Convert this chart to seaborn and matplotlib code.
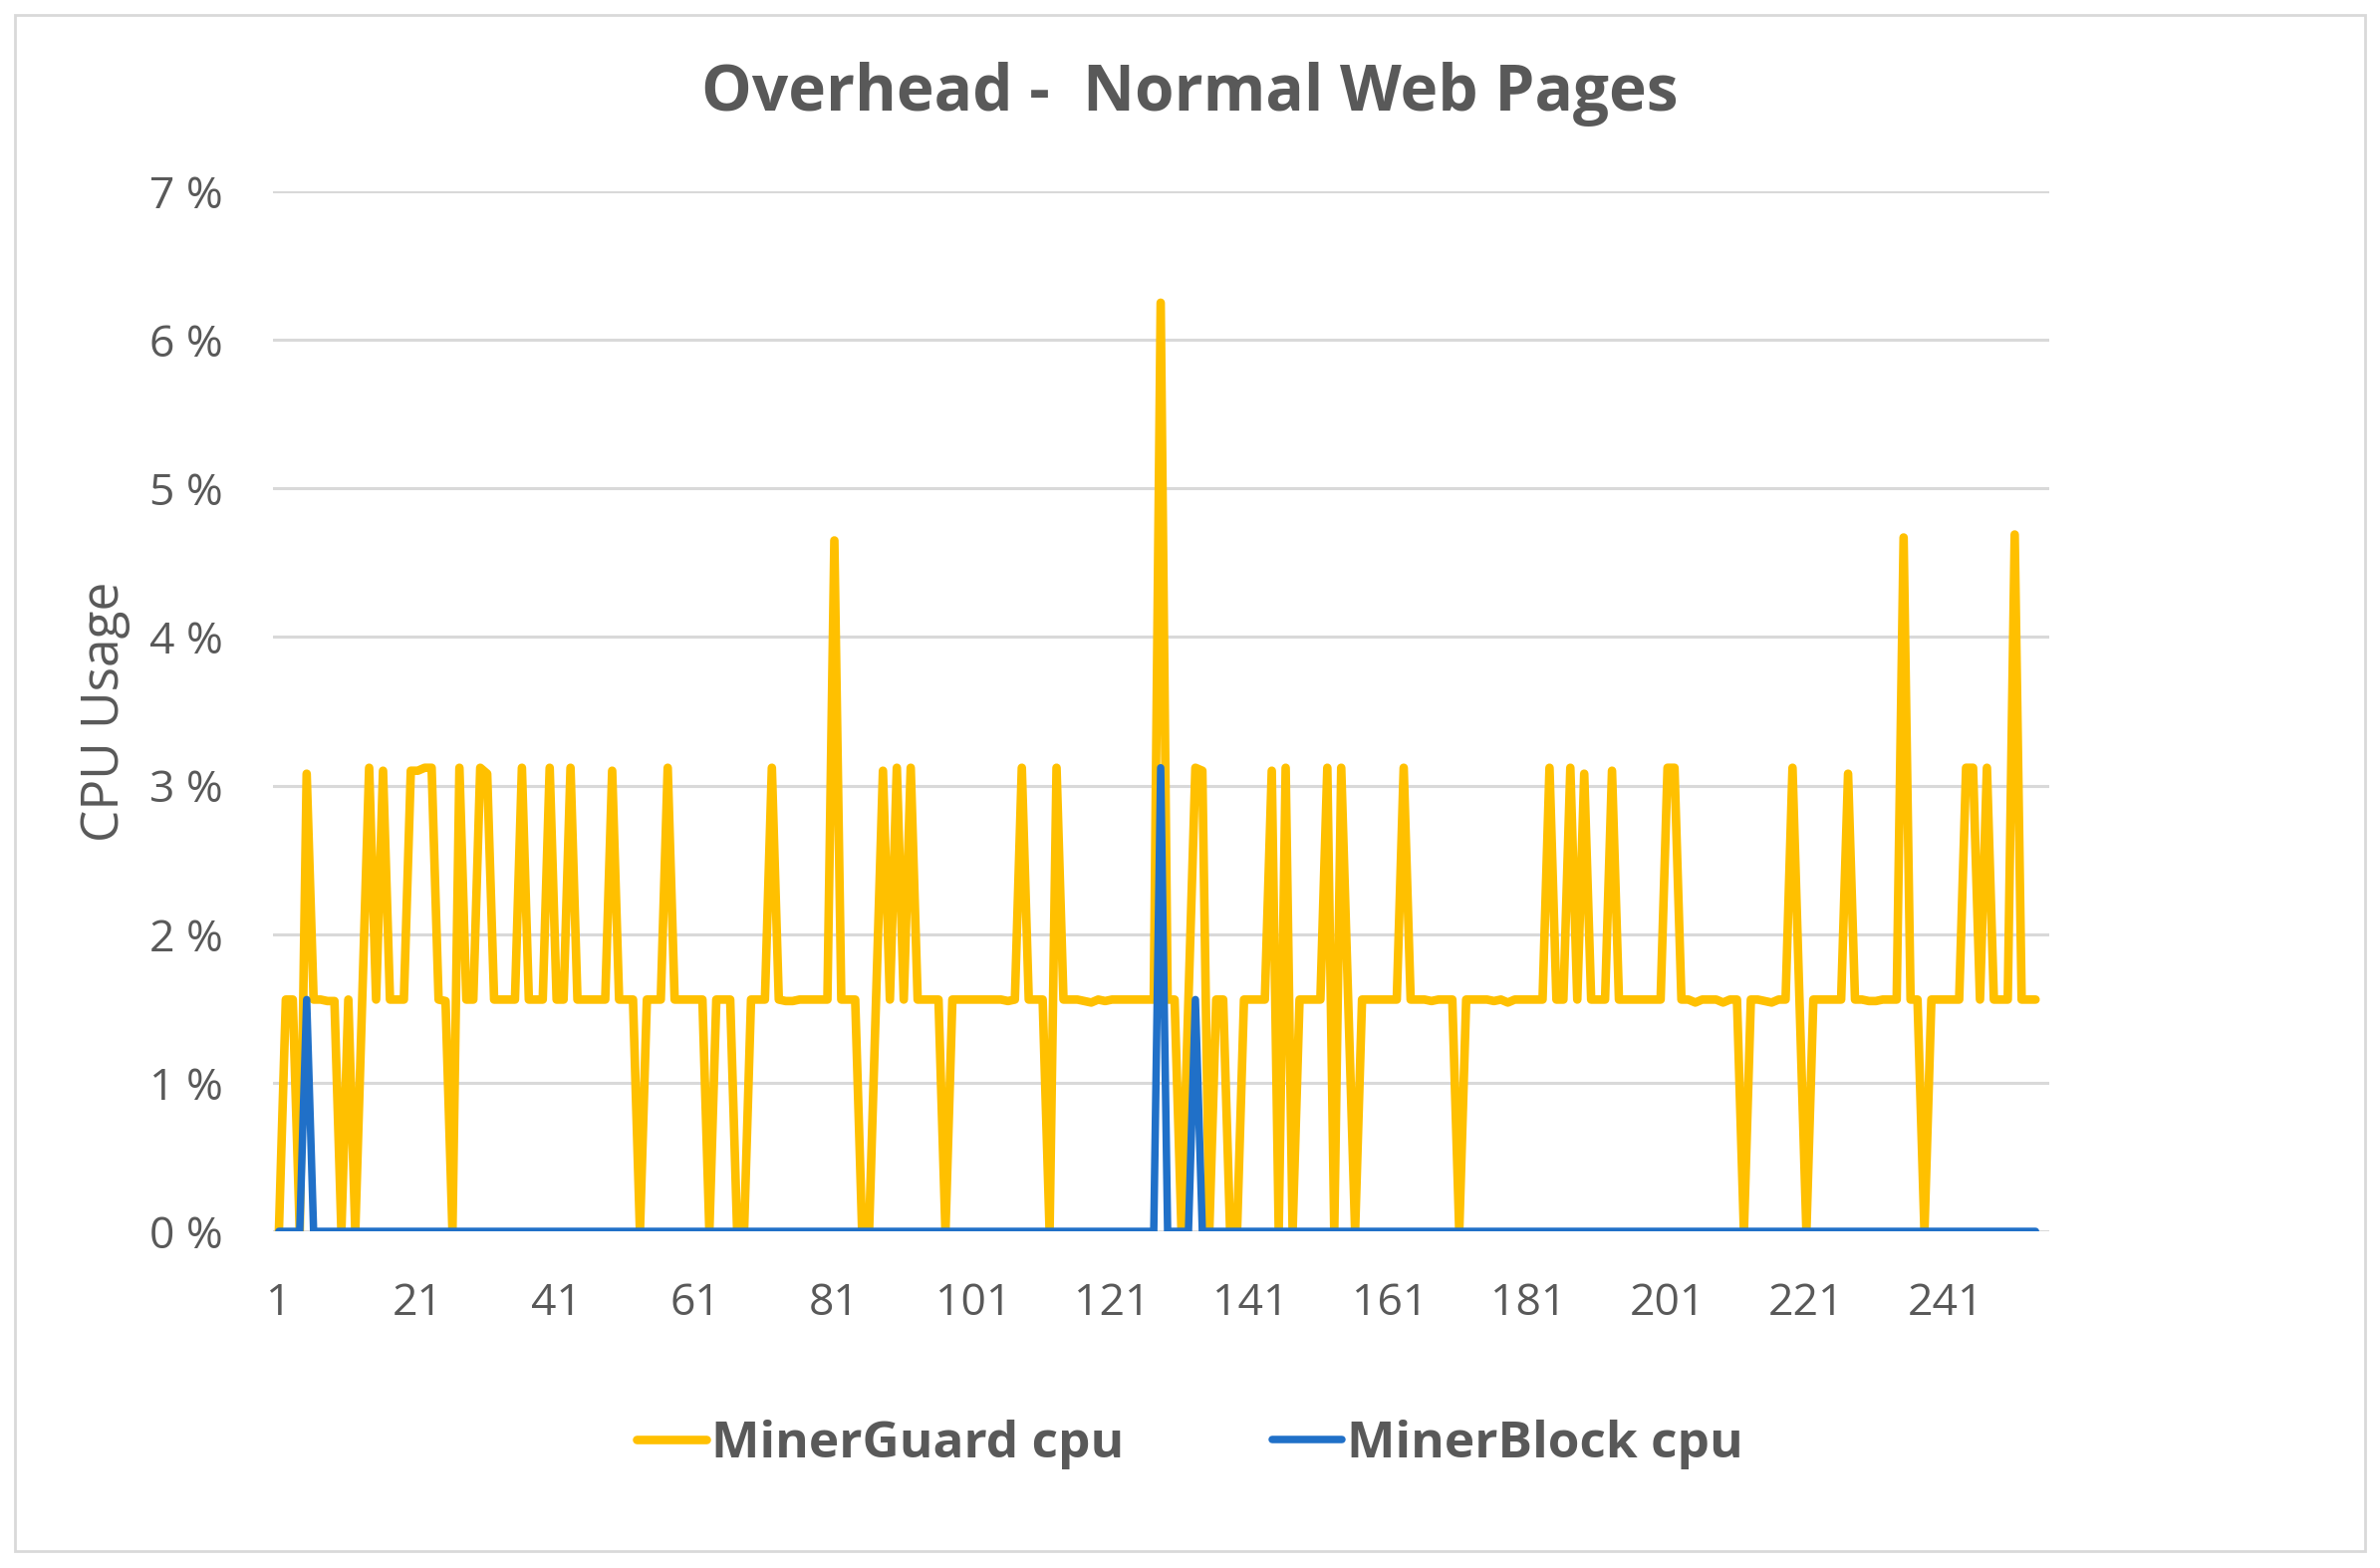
import pandas as pd
import numpy as np
import matplotlib.pyplot as plt
import seaborn as sns
from matplotlib.patches import Rectangle
from matplotlib.ticker import FuncFormatter

sns.set_theme(style="white")
plt.rcParams['font.family'] = ['Open Sans', 'DejaVu Sans']

# CPU usage (%) per sample
minerguard_cpu = [
    0, 1.56, 1.56, 0, 3.08, 1.56, 1.56, 1.55, 1.55, 0,
    1.56, 0, 1.56, 3.12, 1.56, 3.10, 1.56, 1.56, 1.56, 3.10,
    3.10, 3.12, 3.12, 1.56, 1.55, 0, 3.12, 1.56, 1.56, 3.12,
    3.08, 1.56, 1.56, 1.56, 1.56, 3.12, 1.56, 1.56, 1.56, 3.12,
    1.56, 1.56, 3.12, 1.56, 1.56, 1.56, 1.56, 1.56, 3.10, 1.56,
    1.56, 1.56, 0, 1.56, 1.56, 1.56, 3.12, 1.56, 1.56, 1.56,
    1.56, 1.56, 0, 1.56, 1.56, 1.56, 0, 0, 1.56, 1.56,
    1.56, 3.12, 1.56, 1.55, 1.55, 1.56, 1.56, 1.56, 1.56, 1.56,
    4.65, 1.56, 1.56, 1.56, 0, 0, 1.56, 3.10, 1.56, 3.12,
    1.56, 3.12, 1.56, 1.56, 1.56, 1.56, 0, 1.56, 1.56, 1.56,
    1.56, 1.56, 1.56, 1.56, 1.56, 1.55, 1.56, 3.12, 1.56, 1.56,
    1.56, 0, 3.12, 1.56, 1.56, 1.56, 1.55, 1.54, 1.56, 1.55,
    1.56, 1.56, 1.56, 1.56, 1.56, 1.56, 1.56, 6.25, 1.56, 1.56,
    0, 1.56, 3.12, 3.10, 0, 1.56, 1.56, 0, 0, 1.56,
    1.56, 1.56, 1.56, 3.10, 0, 3.12, 0, 1.56, 1.56, 1.56,
    1.56, 3.12, 0, 3.12, 1.56, 0, 1.56, 1.56, 1.56, 1.56,
    1.56, 1.56, 3.12, 1.56, 1.56, 1.56, 1.55, 1.56, 1.56, 1.56,
    0, 1.56, 1.56, 1.56, 1.56, 1.55, 1.56, 1.54, 1.56, 1.56,
    1.56, 1.56, 1.56, 3.12, 1.56, 1.56, 3.12, 1.56, 3.08, 1.56,
    1.56, 1.56, 3.10, 1.56, 1.56, 1.56, 1.56, 1.56, 1.56, 1.56,
    3.12, 3.12, 1.56, 1.56, 1.54, 1.56, 1.56, 1.56, 1.54, 1.56,
    1.56, 0, 1.56, 1.56, 1.55, 1.54, 1.56, 1.56, 3.12, 1.56,
    0, 1.56, 1.56, 1.56, 1.56, 1.56, 3.08, 1.56, 1.56, 1.55,
    1.55, 1.56, 1.56, 1.56, 4.67, 1.56, 1.56, 0, 1.56, 1.56,
    1.56, 1.56, 1.56, 3.12, 3.12, 1.56, 3.12, 1.56, 1.56, 1.56,
    4.69, 1.56, 1.56, 1.56,
]

minerblock_cpu = [
    0, 0, 0, 0, 1.56, 0, 0, 0, 0, 0,
    0, 0, 0, 0, 0, 0, 0, 0, 0, 0,
    0, 0, 0, 0, 0, 0, 0, 0, 0, 0,
    0, 0, 0, 0, 0, 0, 0, 0, 0, 0,
    0, 0, 0, 0, 0, 0, 0, 0, 0, 0,
    0, 0, 0, 0, 0, 0, 0, 0, 0, 0,
    0, 0, 0, 0, 0, 0, 0, 0, 0, 0,
    0, 0, 0, 0, 0, 0, 0, 0, 0, 0,
    0, 0, 0, 0, 0, 0, 0, 0, 0, 0,
    0, 0, 0, 0, 0, 0, 0, 0, 0, 0,
    0, 0, 0, 0, 0, 0, 0, 0, 0, 0,
    0, 0, 0, 0, 0, 0, 0, 0, 0, 0,
    0, 0, 0, 0, 0, 0, 0, 3.12, 0, 0,
    0, 0, 1.56, 0, 0, 0, 0, 0, 0, 0,
    0, 0, 0, 0, 0, 0, 0, 0, 0, 0,
    0, 0, 0, 0, 0, 0, 0, 0, 0, 0,
    0, 0, 0, 0, 0, 0, 0, 0, 0, 0,
    0, 0, 0, 0, 0, 0, 0, 0, 0, 0,
    0, 0, 0, 0, 0, 0, 0, 0, 0, 0,
    0, 0, 0, 0, 0, 0, 0, 0, 0, 0,
    0, 0, 0, 0, 0, 0, 0, 0, 0, 0,
    0, 0, 0, 0, 0, 0, 0, 0, 0, 0,
    0, 0, 0, 0, 0, 0, 0, 0, 0, 0,
    0, 0, 0, 0, 0, 0, 0, 0, 0, 0,
    0, 0, 0, 0, 0, 0, 0, 0, 0, 0,
    0, 0, 0, 0,
]

sample = list(range(1, len(minerguard_cpu) + 1))
x_ticks = [1, 21, 41, 61, 81, 101, 121, 141, 161, 181, 201, 221, 241]
y_ticks = [0, 1, 2, 3, 4, 5, 6, 7]

df = pd.DataFrame({'sample': sample,
                   'MinerGuard cpu': minerguard_cpu,
                   'MinerBlock cpu': minerblock_cpu})

fig = plt.figure(figsize=(23.89, 15.74), dpi=100)
ax = fig.add_axes([0.1147, 0.2147, 0.7464, 0.6633])

sns.lineplot(data=df, x='sample', y='MinerGuard cpu', ax=ax, color='#FFC000',
             linewidth=6.2, label='MinerGuard cpu', solid_joinstyle='round')
sns.lineplot(data=df, x='sample', y='MinerBlock cpu', ax=ax, color='#2070C8',
             linewidth=5.4, label='MinerBlock cpu', solid_joinstyle='round')

ax.set_xlim(0.15, 256)
ax.set_ylim(0, 7)
ax.set_xticks(x_ticks)
ax.set_yticks(y_ticks)
ax.yaxis.set_major_formatter(FuncFormatter(lambda v, p: f'{v:.0f} %'))
ax.grid(axis='y', color='#D9D9D9', linewidth=2.2)
ax.grid(axis='x', visible=False)
ax.set_axisbelow(True)
for s in ax.spines.values():
    s.set_visible(False)
ax.tick_params(axis='x', labelsize=32, colors='#595959', pad=36, length=0)
ax.tick_params(axis='y', labelsize=32, colors='#595959', pad=36, length=0)

ax.set_xlabel('')
ax.set_ylabel('CPU Usage', fontsize=37, color='#595959', labelpad=14)

fig.suptitle('Overhead -  Normal Web Pages', x=0.5, y=0.94, va='center',
             fontsize=46, fontweight='bold', color='#595959')

ax.legend(loc='center', bbox_to_anchor=(0.5, 0.079), bbox_transform=fig.transFigure,
          ncol=2, frameon=False, handlelength=1.35, handletextpad=0.1,
          columnspacing=2.9, prop={'size': 37, 'weight': 'bold'},
          labelcolor='#595959')

fig.patches.append(Rectangle((0.0064, 0.0108), 0.9873, 0.9797, transform=fig.transFigure,
                             fill=False, edgecolor='#D9D9D9', linewidth=2))

plt.savefig('out.png', dpi=100, facecolor='white')
